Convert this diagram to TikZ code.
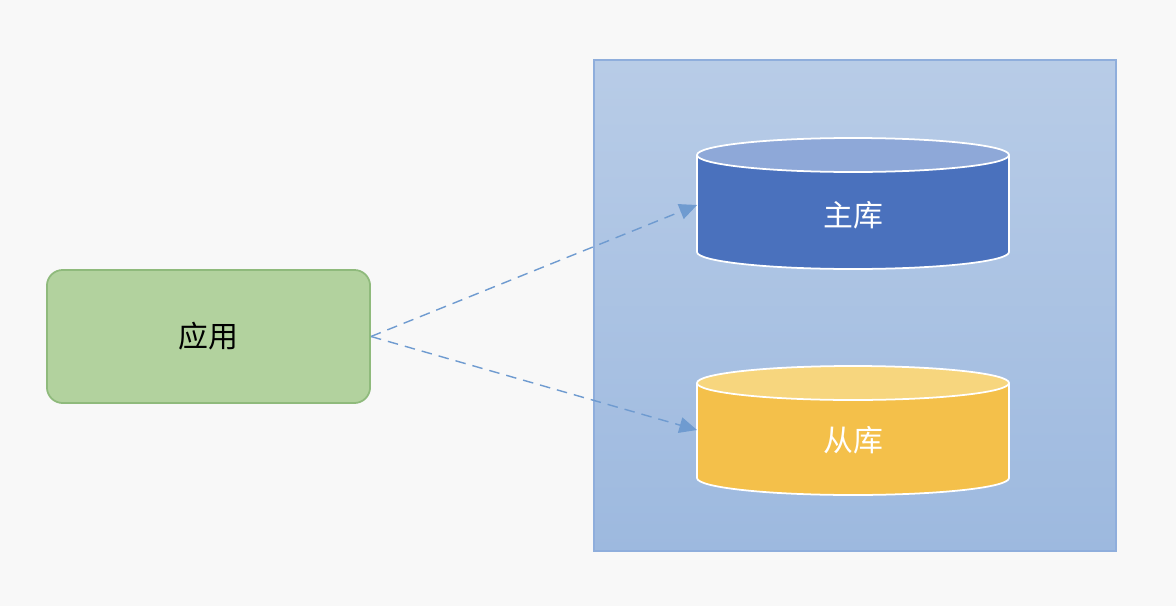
\documentclass[tikz,border=0pt]{standalone}
\usepackage{fontspec}
\setmainfont{Noto Sans CJK SC}
\usetikzlibrary{arrows.meta}
\definecolor{bgc}{HTML}{F8F8F8}
\definecolor{contA}{HTML}{B8CCE7}
\definecolor{contB}{HTML}{9DB9DF}
\definecolor{contL}{HTML}{8FAEDC}
\definecolor{appF}{HTML}{B2D29E}
\definecolor{appL}{HTML}{8FBA7C}
\definecolor{mainF}{HTML}{4A71BD}
\definecolor{mainT}{HTML}{8EA8D8}
\definecolor{slvF}{HTML}{F4C04A}
\definecolor{slvT}{HTML}{F7D67E}
\definecolor{arr}{HTML}{6F9BD0}
\tikzset{conn/.style={draw=arr,densely dashed,line width=0.4pt,-{Triangle[length=5pt,width=4.5pt]}},
lbl/.style={font=\fontsize{8.5}{10}\selectfont}}
\begin{document}
\begin{tikzpicture}[x=0.01cm,y=-0.01cm]
\fill[bgc] (0,0) rectangle (1176,606);
\useasboundingbox (0,0) rectangle (1176,606);
\shade[top color=contA,bottom color=contB] (594,60) rectangle (1116,551);
\draw[contL,line width=0.5pt] (594,60) rectangle (1116,551);
\node[draw=appL,fill=appF,line width=0.5pt,rounded corners=4.5pt,minimum width=3.23cm,minimum height=1.33cm,lbl,text=black] (app) at (208.5,336.5) {应用};
% master cylinder
\fill[mainF] (697,155) -- (697,252) arc[start angle=180,end angle=0,x radius=156,y radius=17] -- (1009,155) -- cycle;
\draw[white,line width=0.5pt] (697,155) -- (697,252) arc[start angle=180,end angle=0,x radius=156,y radius=17] -- (1009,155);
\filldraw[fill=mainT,draw=white,line width=0.5pt] (853,155) ellipse[x radius=156,y radius=17];
\node[lbl,text=white] (m) at (853,215) {主库};
\coordinate (mL) at (697,205);
% slave cylinder
\fill[slvF] (697,383) -- (697,478) arc[start angle=180,end angle=0,x radius=156,y radius=17] -- (1009,383) -- cycle;
\draw[white,line width=0.5pt] (697,383) -- (697,478) arc[start angle=180,end angle=0,x radius=156,y radius=17] -- (1009,383);
\filldraw[fill=slvT,draw=white,line width=0.5pt] (853,383) ellipse[x radius=156,y radius=17];
\node[lbl,text=white] (s) at (853,440) {从库};
\coordinate (sL) at (697,430);
\draw[conn] (app.east) -- (mL);
\draw[conn] (app.east) -- (sL);
\end{tikzpicture}
\end{document}
